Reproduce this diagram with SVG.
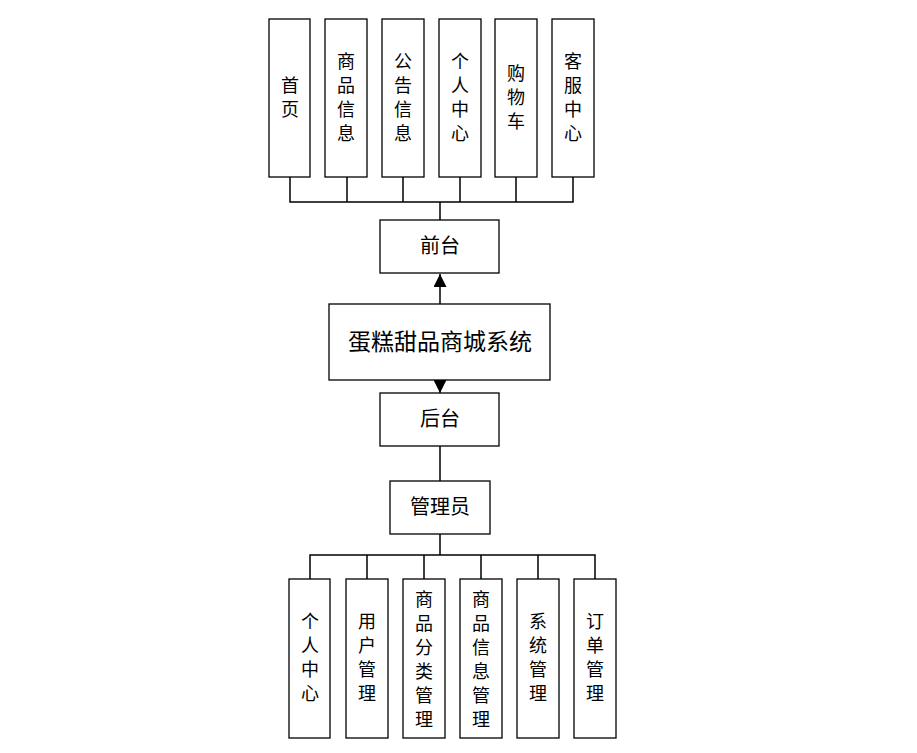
<svg xmlns="http://www.w3.org/2000/svg" width="917" height="753" viewBox="0 0 917 753">
<style>
rect{fill:#fff;stroke:#000;stroke-width:1.3}
text{font-family:"Liberation Serif","Noto Sans CJK SC",serif;font-size:18px;text-anchor:middle;fill:#000}
.c{stroke:#000;stroke-width:1.5;fill:none}
</style>
<defs><marker id="a" viewBox="0 0 10 10" refX="10" refY="5" markerWidth="10" markerHeight="10" markerUnits="userSpaceOnUse" orient="auto"><path d="M0,0L10,5L0,10z"/></marker>
<marker id="b" viewBox="0 0 10 10" refX="10" refY="5" markerWidth="13" markerHeight="13" markerUnits="userSpaceOnUse" orient="auto"><path d="M0,0L10,5L0,10z"/></marker></defs>
<g id="connectors">
<path class="c" d="M290,177V202H573V177M347,177V202M403,177V202M460,177V202M516,177V202M440,202V220"/>
<path class="c" d="M440,304V274" marker-end="url(#b)"/>
<path class="c" d="M440,380V393" marker-end="url(#b)"/>
<path class="c" d="M440,446V481M440,534V555M310,579V555H595V579M367,555V579M424,555V579M481,555V579M538,555V579"/>
</g>
<g id="t1"><rect x="269" y="19" width="41" height="158"/><text x="290" y="92">首</text><text x="290" y="116">页</text></g>
<g id="t2"><rect x="325" y="19" width="42" height="158"/><text x="346" y="68">商</text><text x="346" y="92">品</text><text x="346" y="116">信</text><text x="346" y="140">息</text></g>
<g id="t3"><rect x="382" y="19" width="42" height="158"/><text x="403" y="68">公</text><text x="403" y="92">告</text><text x="403" y="116">信</text><text x="403" y="140">息</text></g>
<g id="t4"><rect x="439" y="19" width="42" height="158"/><text x="460" y="68">个</text><text x="460" y="92">人</text><text x="460" y="116">中</text><text x="460" y="140">心</text></g>
<g id="t5"><rect x="495" y="19" width="42" height="158"/><text x="516" y="80">购</text><text x="516" y="104">物</text><text x="516" y="128">车</text></g>
<g id="t6"><rect x="552" y="19" width="42" height="158"/><text x="573" y="68">客</text><text x="573" y="92">服</text><text x="573" y="116">中</text><text x="573" y="140">心</text></g>
<g id="qt"><rect x="380" y="220" width="119" height="53"/><text x="440" y="253" style="font-size:20px">前台</text></g>
<g id="main"><rect x="329" y="304" width="221" height="76"/><text x="440" y="350" style="font-size:23px">蛋糕甜品商城系统</text></g>
<g id="ht"><rect x="380" y="393" width="119" height="53"/><text x="440" y="426" style="font-size:20px">后台</text></g>
<g id="admin"><rect x="390" y="481" width="100" height="53"/><text x="440" y="514" style="font-size:20px">管理员</text></g>
<g id="b1"><rect x="289" y="579" width="41" height="159"/><text x="310" y="628">个</text><text x="310" y="652">人</text><text x="310" y="676">中</text><text x="310" y="700">心</text></g>
<g id="b2"><rect x="346" y="579" width="42" height="159"/><text x="367" y="628">用</text><text x="367" y="652">户</text><text x="367" y="676">管</text><text x="367" y="700">理</text></g>
<g id="b3"><rect x="403" y="579" width="42" height="159"/><text x="424" y="606">商</text><text x="424" y="630">品</text><text x="424" y="654">分</text><text x="424" y="678">类</text><text x="424" y="702">管</text><text x="424" y="726">理</text></g>
<g id="b4"><rect x="460" y="579" width="42" height="159"/><text x="481" y="606">商</text><text x="481" y="630">品</text><text x="481" y="654">信</text><text x="481" y="678">息</text><text x="481" y="702">管</text><text x="481" y="726">理</text></g>
<g id="b5"><rect x="517" y="579" width="42" height="159"/><text x="538" y="628">系</text><text x="538" y="652">统</text><text x="538" y="676">管</text><text x="538" y="700">理</text></g>
<g id="b6"><rect x="574" y="579" width="42" height="159"/><text x="595" y="628">订</text><text x="595" y="652">单</text><text x="595" y="676">管</text><text x="595" y="700">理</text></g>
</svg>
